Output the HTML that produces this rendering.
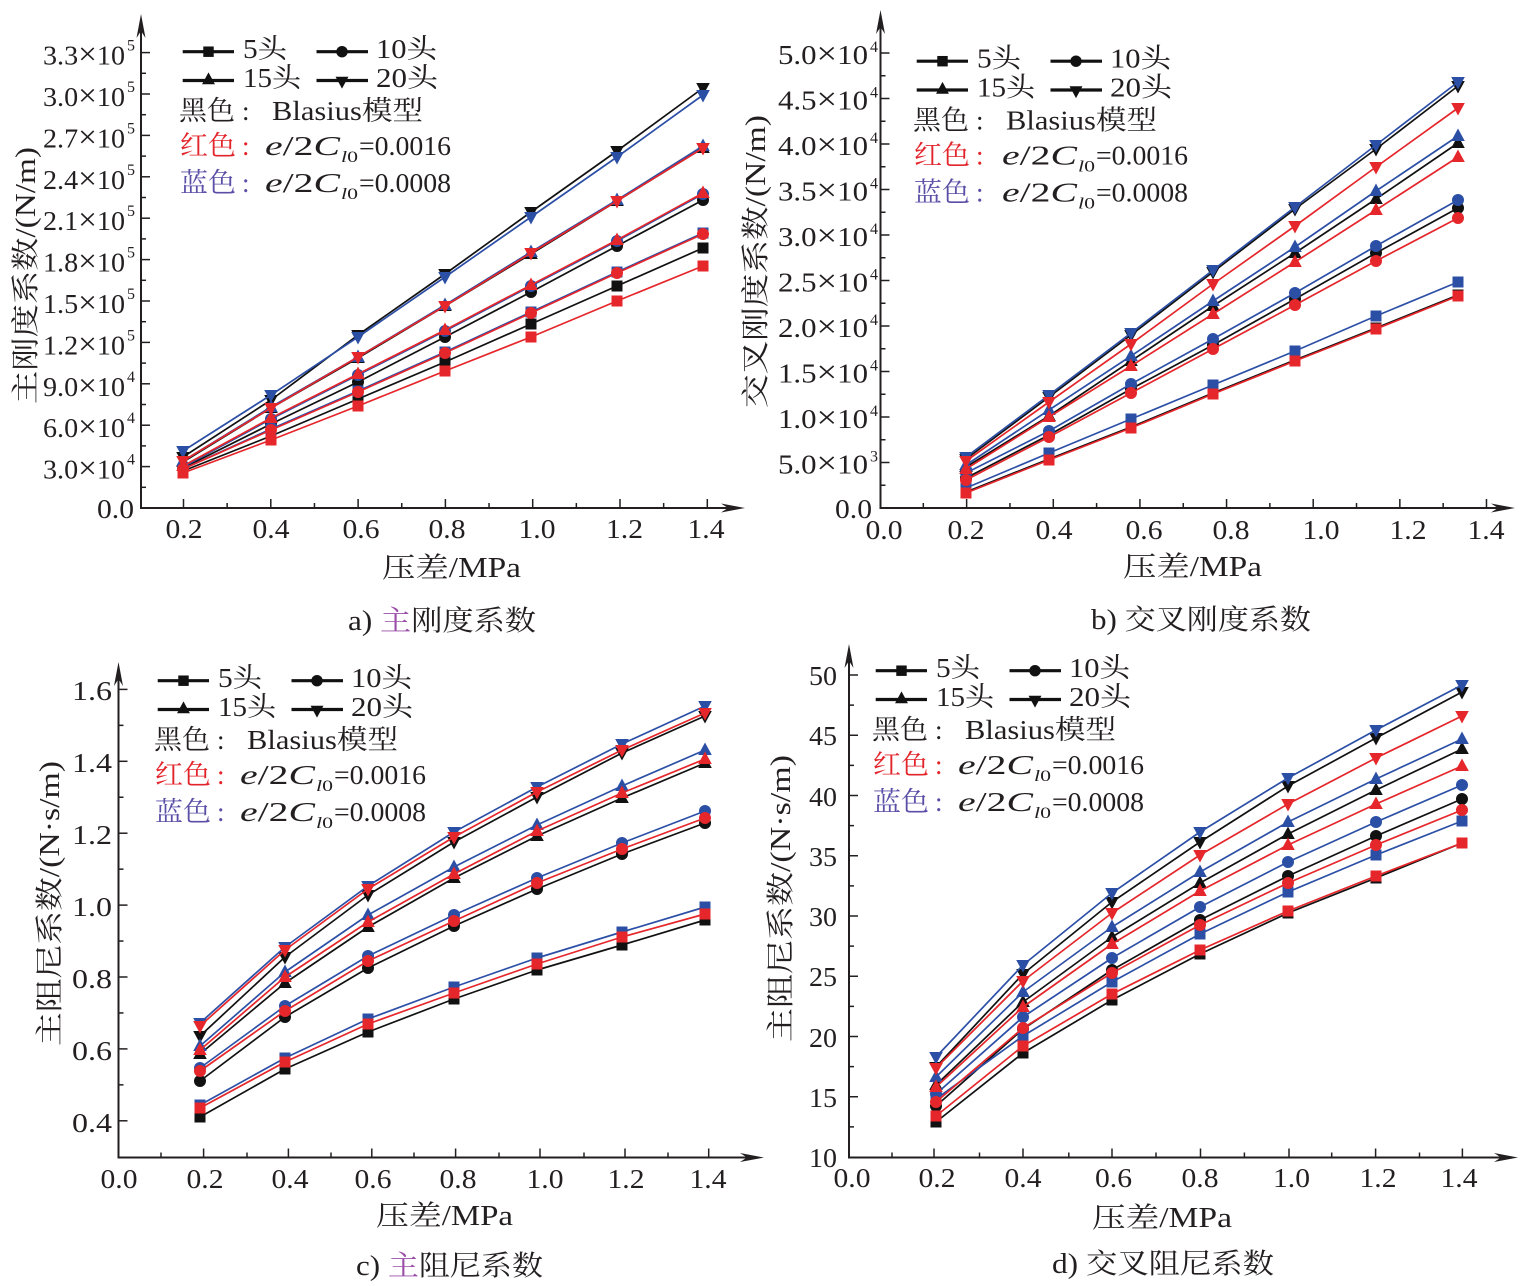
<!DOCTYPE html>
<html><head><meta charset="utf-8">
<style>
html,body{margin:0;padding:0;background:#fff;overflow:hidden;}
svg{display:block;}
text{font-family:"Liberation Serif","Noto Serif CJK SC",serif;fill:#231f20;font-size:27px;}
.t28{font-size:28px;}
.sup{font-size:16px;}
.x{font-size:32px;}
.red{fill:#e2242b;}
.pur{fill:#5a4ea6;}
.mag{fill:#9b4ea8;}
</style></head><body>
<svg id="s" width="1522" height="1286" viewBox="0 0 1522 1286" xmlns="http://www.w3.org/2000/svg">
<rect width="1522" height="1286" fill="#fff"/>
<g id="g"></g>

<!-- ===== Chart a ===== -->
<g>
<text x="97" y="518" textLength="37" lengthAdjust="spacingAndGlyphs">0.0</text>
<text x="43" y="478.6" textLength="82" lengthAdjust="spacingAndGlyphs">3.0<tspan class="x">×</tspan>10</text><text class="sup" x="127" y="464.6">4</text>
<text x="43" y="437.2" textLength="82" lengthAdjust="spacingAndGlyphs">6.0<tspan class="x">×</tspan>10</text><text class="sup" x="127" y="423.2">4</text>
<text x="43" y="395.8" textLength="82" lengthAdjust="spacingAndGlyphs">9.0<tspan class="x">×</tspan>10</text><text class="sup" x="127" y="381.8">4</text>
<text x="43" y="354.4" textLength="82" lengthAdjust="spacingAndGlyphs">1.2<tspan class="x">×</tspan>10</text><text class="sup" x="127" y="340.4">5</text>
<text x="43" y="313" textLength="82" lengthAdjust="spacingAndGlyphs">1.5<tspan class="x">×</tspan>10</text><text class="sup" x="127" y="299">5</text>
<text x="43" y="271.6" textLength="82" lengthAdjust="spacingAndGlyphs">1.8<tspan class="x">×</tspan>10</text><text class="sup" x="127" y="257.6">5</text>
<text x="43" y="230.2" textLength="82" lengthAdjust="spacingAndGlyphs">2.1<tspan class="x">×</tspan>10</text><text class="sup" x="127" y="216.2">5</text>
<text x="43" y="188.8" textLength="82" lengthAdjust="spacingAndGlyphs">2.4<tspan class="x">×</tspan>10</text><text class="sup" x="127" y="174.8">5</text>
<text x="43" y="147.4" textLength="82" lengthAdjust="spacingAndGlyphs">2.7<tspan class="x">×</tspan>10</text><text class="sup" x="127" y="133.4">5</text>
<text x="43" y="106" textLength="82" lengthAdjust="spacingAndGlyphs">3.0<tspan class="x">×</tspan>10</text><text class="sup" x="127" y="92">5</text>
<text x="43" y="64.6" textLength="82" lengthAdjust="spacingAndGlyphs">3.3<tspan class="x">×</tspan>10</text><text class="sup" x="127" y="50.6">5</text>
<text x="165.5" y="538" textLength="37" lengthAdjust="spacingAndGlyphs">0.2</text>
<text x="252.5" y="538" textLength="37" lengthAdjust="spacingAndGlyphs">0.4</text>
<text x="342.5" y="538" textLength="37" lengthAdjust="spacingAndGlyphs">0.6</text>
<text x="428.5" y="538" textLength="37" lengthAdjust="spacingAndGlyphs">0.8</text>
<text x="518.5" y="538" textLength="37" lengthAdjust="spacingAndGlyphs">1.0</text>
<text x="606" y="538" textLength="37" lengthAdjust="spacingAndGlyphs">1.2</text>
<text x="687.5" y="538" textLength="37" lengthAdjust="spacingAndGlyphs">1.4</text>
<text class="t28" x="382" y="577" textLength="139" lengthAdjust="spacingAndGlyphs">压差/MPa</text>
<text class="t28" x="348" y="630" textLength="188" lengthAdjust="spacingAndGlyphs">a) <tspan class="mag">主</tspan>刚度系数</text>
<text class="t28" transform="translate(35,404) rotate(-90)" x="0" y="0" textLength="257" lengthAdjust="spacingAndGlyphs">主刚度系数/(N/m)</text>
</g>

<!-- ===== Chart b ===== -->
<g>
<text x="835" y="518" textLength="37" lengthAdjust="spacingAndGlyphs">0.0</text>
<text x="778" y="473.5" textLength="90" lengthAdjust="spacingAndGlyphs">5.0<tspan class="x">×</tspan>10</text><text class="sup" x="870" y="461.5">3</text>
<text x="778" y="428" textLength="90" lengthAdjust="spacingAndGlyphs">1.0<tspan class="x">×</tspan>10</text><text class="sup" x="870" y="416">4</text>
<text x="778" y="382.5" textLength="90" lengthAdjust="spacingAndGlyphs">1.5<tspan class="x">×</tspan>10</text><text class="sup" x="870" y="370.5">4</text>
<text x="778" y="337" textLength="90" lengthAdjust="spacingAndGlyphs">2.0<tspan class="x">×</tspan>10</text><text class="sup" x="870" y="325">4</text>
<text x="778" y="291.5" textLength="90" lengthAdjust="spacingAndGlyphs">2.5<tspan class="x">×</tspan>10</text><text class="sup" x="870" y="279.5">4</text>
<text x="778" y="246" textLength="90" lengthAdjust="spacingAndGlyphs">3.0<tspan class="x">×</tspan>10</text><text class="sup" x="870" y="234">4</text>
<text x="778" y="200.5" textLength="90" lengthAdjust="spacingAndGlyphs">3.5<tspan class="x">×</tspan>10</text><text class="sup" x="870" y="188.5">4</text>
<text x="778" y="155" textLength="90" lengthAdjust="spacingAndGlyphs">4.0<tspan class="x">×</tspan>10</text><text class="sup" x="870" y="143">4</text>
<text x="778" y="109.5" textLength="90" lengthAdjust="spacingAndGlyphs">4.5<tspan class="x">×</tspan>10</text><text class="sup" x="870" y="97.5">4</text>
<text x="778" y="64" textLength="90" lengthAdjust="spacingAndGlyphs">5.0<tspan class="x">×</tspan>10</text><text class="sup" x="870" y="52">4</text>
<text x="865.5" y="539" textLength="37" lengthAdjust="spacingAndGlyphs">0.0</text>
<text x="947.5" y="539" textLength="37" lengthAdjust="spacingAndGlyphs">0.2</text>
<text x="1035.5" y="539" textLength="37" lengthAdjust="spacingAndGlyphs">0.4</text>
<text x="1125.5" y="539" textLength="37" lengthAdjust="spacingAndGlyphs">0.6</text>
<text x="1212.5" y="539" textLength="37" lengthAdjust="spacingAndGlyphs">0.8</text>
<text x="1302.5" y="539" textLength="37" lengthAdjust="spacingAndGlyphs">1.0</text>
<text x="1389.5" y="539" textLength="37" lengthAdjust="spacingAndGlyphs">1.2</text>
<text x="1467.5" y="539" textLength="37" lengthAdjust="spacingAndGlyphs">1.4</text>
<text class="t28" x="1123" y="576" textLength="139" lengthAdjust="spacingAndGlyphs">压差/MPa</text>
<text class="t28" x="1091" y="629" textLength="220" lengthAdjust="spacingAndGlyphs">b) 交叉刚度系数</text>
<text class="t28" transform="translate(765,408) rotate(-90)" x="0" y="0" textLength="293" lengthAdjust="spacingAndGlyphs">交叉刚度系数/(N/m)</text>
</g>

<!-- ===== Chart c ===== -->
<g>
<text x="72" y="1132" textLength="40" lengthAdjust="spacingAndGlyphs">0.4</text>
<text x="72" y="1060" textLength="40" lengthAdjust="spacingAndGlyphs">0.6</text>
<text x="72" y="988" textLength="40" lengthAdjust="spacingAndGlyphs">0.8</text>
<text x="72" y="916" textLength="40" lengthAdjust="spacingAndGlyphs">1.0</text>
<text x="72" y="844" textLength="40" lengthAdjust="spacingAndGlyphs">1.2</text>
<text x="72" y="772" textLength="40" lengthAdjust="spacingAndGlyphs">1.4</text>
<text x="72" y="700" textLength="40" lengthAdjust="spacingAndGlyphs">1.6</text>
<text x="100.5" y="1188" textLength="37" lengthAdjust="spacingAndGlyphs">0.0</text>
<text x="186.5" y="1188" textLength="37" lengthAdjust="spacingAndGlyphs">0.2</text>
<text x="271.5" y="1188" textLength="37" lengthAdjust="spacingAndGlyphs">0.4</text>
<text x="354.5" y="1188" textLength="37" lengthAdjust="spacingAndGlyphs">0.6</text>
<text x="439.5" y="1188" textLength="37" lengthAdjust="spacingAndGlyphs">0.8</text>
<text x="526.5" y="1188" textLength="37" lengthAdjust="spacingAndGlyphs">1.0</text>
<text x="607.5" y="1188" textLength="37" lengthAdjust="spacingAndGlyphs">1.2</text>
<text x="689.5" y="1188" textLength="37" lengthAdjust="spacingAndGlyphs">1.4</text>
<text class="t28" x="376" y="1225" textLength="137" lengthAdjust="spacingAndGlyphs">压差/MPa</text>
<text class="t28" x="356" y="1275" textLength="187" lengthAdjust="spacingAndGlyphs">c) <tspan class="mag">主</tspan>阻尼系数</text>
<text class="t28" transform="translate(59,1046) rotate(-90)" x="0" y="0" textLength="285" lengthAdjust="spacingAndGlyphs">主阻尼系数/(N·s/m)</text>
</g>

<!-- ===== Chart d ===== -->
<g>
<text x="809" y="1167" textLength="28" lengthAdjust="spacingAndGlyphs">10</text>
<text x="809" y="1107" textLength="28" lengthAdjust="spacingAndGlyphs">15</text>
<text x="809" y="1047" textLength="28" lengthAdjust="spacingAndGlyphs">20</text>
<text x="809" y="986" textLength="28" lengthAdjust="spacingAndGlyphs">25</text>
<text x="809" y="926" textLength="28" lengthAdjust="spacingAndGlyphs">30</text>
<text x="809" y="866" textLength="28" lengthAdjust="spacingAndGlyphs">35</text>
<text x="809" y="806" textLength="28" lengthAdjust="spacingAndGlyphs">40</text>
<text x="809" y="745" textLength="28" lengthAdjust="spacingAndGlyphs">45</text>
<text x="809" y="685" textLength="28" lengthAdjust="spacingAndGlyphs">50</text>
<text x="833.5" y="1187" textLength="37" lengthAdjust="spacingAndGlyphs">0.0</text>
<text x="918.5" y="1187" textLength="37" lengthAdjust="spacingAndGlyphs">0.2</text>
<text x="1004.5" y="1187" textLength="37" lengthAdjust="spacingAndGlyphs">0.4</text>
<text x="1095" y="1187" textLength="37" lengthAdjust="spacingAndGlyphs">0.6</text>
<text x="1181.5" y="1187" textLength="37" lengthAdjust="spacingAndGlyphs">0.8</text>
<text x="1273" y="1187" textLength="37" lengthAdjust="spacingAndGlyphs">1.0</text>
<text x="1359.5" y="1187" textLength="37" lengthAdjust="spacingAndGlyphs">1.2</text>
<text x="1440.5" y="1187" textLength="37" lengthAdjust="spacingAndGlyphs">1.4</text>
<text class="t28" x="1092" y="1227" textLength="140" lengthAdjust="spacingAndGlyphs">压差/MPa</text>
<text class="t28" x="1052" y="1273" textLength="222" lengthAdjust="spacingAndGlyphs">d) 交叉阻尼系数</text>
<text class="t28" transform="translate(790,1042) rotate(-90)" x="0" y="0" textLength="287" lengthAdjust="spacingAndGlyphs">主阻尼系数/(N·s/m)</text>
</g>

<!-- ===== Legends ===== -->
<g transform="translate(0,0)">
<text x="243" y="58" textLength="44" lengthAdjust="spacingAndGlyphs">5头</text>
<text x="376" y="58" textLength="61" lengthAdjust="spacingAndGlyphs">10头</text>
<text x="243" y="87" textLength="58" lengthAdjust="spacingAndGlyphs">15头</text>
<text x="376" y="87" textLength="62" lengthAdjust="spacingAndGlyphs">20头</text>
<text x="179" y="120" textLength="56" lengthAdjust="spacingAndGlyphs">黑色</text><text x="242" y="120">:</text>
<text x="272" y="120" textLength="151" lengthAdjust="spacingAndGlyphs">Blasius模型</text>
<text class="red" x="180" y="155" textLength="56" lengthAdjust="spacingAndGlyphs">红色</text><text class="red" x="242" y="155">:</text>
<text x="265" y="155" textLength="75" lengthAdjust="spacingAndGlyphs"><tspan font-style="italic">e</tspan>/2<tspan font-style="italic">C</tspan></text>
<text class="sup" x="341" y="162" font-size="18" textLength="17" lengthAdjust="spacingAndGlyphs"><tspan font-style="italic">l</tspan>0</text>
<text x="359" y="155" textLength="92" lengthAdjust="spacingAndGlyphs">=0.0016</text>
<text class="pur" x="180" y="192" textLength="56" lengthAdjust="spacingAndGlyphs">蓝色</text><text class="pur" x="242" y="192">:</text>
<text x="265" y="192" textLength="75" lengthAdjust="spacingAndGlyphs"><tspan font-style="italic">e</tspan>/2<tspan font-style="italic">C</tspan></text>
<text class="sup" x="341" y="199" font-size="18" textLength="17" lengthAdjust="spacingAndGlyphs"><tspan font-style="italic">l</tspan>0</text>
<text x="359" y="192" textLength="92" lengthAdjust="spacingAndGlyphs">=0.0008</text>
</g>
<g transform="translate(734,9.5)">
<text x="243" y="58" textLength="44" lengthAdjust="spacingAndGlyphs">5头</text>
<text x="376" y="58" textLength="61" lengthAdjust="spacingAndGlyphs">10头</text>
<text x="243" y="87" textLength="58" lengthAdjust="spacingAndGlyphs">15头</text>
<text x="376" y="87" textLength="62" lengthAdjust="spacingAndGlyphs">20头</text>
<text x="179" y="120" textLength="56" lengthAdjust="spacingAndGlyphs">黑色</text><text x="242" y="120">:</text>
<text x="272" y="120" textLength="151" lengthAdjust="spacingAndGlyphs">Blasius模型</text>
<text class="red" x="180" y="155" textLength="56" lengthAdjust="spacingAndGlyphs">红色</text><text class="red" x="242" y="155">:</text>
<text x="268" y="155" textLength="75" lengthAdjust="spacingAndGlyphs"><tspan font-style="italic">e</tspan>/2<tspan font-style="italic">C</tspan></text>
<text class="sup" x="344" y="162" font-size="18" textLength="17" lengthAdjust="spacingAndGlyphs"><tspan font-style="italic">l</tspan>0</text>
<text x="362" y="155" textLength="92" lengthAdjust="spacingAndGlyphs">=0.0016</text>
<text class="pur" x="180" y="192" textLength="56" lengthAdjust="spacingAndGlyphs">蓝色</text><text class="pur" x="242" y="192">:</text>
<text x="268" y="192" textLength="75" lengthAdjust="spacingAndGlyphs"><tspan font-style="italic">e</tspan>/2<tspan font-style="italic">C</tspan></text>
<text class="sup" x="344" y="199" font-size="18" textLength="17" lengthAdjust="spacingAndGlyphs"><tspan font-style="italic">l</tspan>0</text>
<text x="362" y="192" textLength="92" lengthAdjust="spacingAndGlyphs">=0.0008</text>
</g>
<g transform="translate(-25,629)">
<text x="243" y="58" textLength="44" lengthAdjust="spacingAndGlyphs">5头</text>
<text x="376" y="58" textLength="61" lengthAdjust="spacingAndGlyphs">10头</text>
<text x="243" y="87" textLength="58" lengthAdjust="spacingAndGlyphs">15头</text>
<text x="376" y="87" textLength="62" lengthAdjust="spacingAndGlyphs">20头</text>
<text x="179" y="120" textLength="56" lengthAdjust="spacingAndGlyphs">黑色</text><text x="242" y="120">:</text>
<text x="272" y="120" textLength="151" lengthAdjust="spacingAndGlyphs">Blasius模型</text>
<text class="red" x="180" y="155" textLength="56" lengthAdjust="spacingAndGlyphs">红色</text><text class="red" x="242" y="155">:</text>
<text x="265" y="155" textLength="75" lengthAdjust="spacingAndGlyphs"><tspan font-style="italic">e</tspan>/2<tspan font-style="italic">C</tspan></text>
<text class="sup" x="341" y="162" font-size="18" textLength="17" lengthAdjust="spacingAndGlyphs"><tspan font-style="italic">l</tspan>0</text>
<text x="359" y="155" textLength="92" lengthAdjust="spacingAndGlyphs">=0.0016</text>
<text class="pur" x="180" y="192" textLength="56" lengthAdjust="spacingAndGlyphs">蓝色</text><text class="pur" x="242" y="192">:</text>
<text x="265" y="192" textLength="75" lengthAdjust="spacingAndGlyphs"><tspan font-style="italic">e</tspan>/2<tspan font-style="italic">C</tspan></text>
<text class="sup" x="341" y="199" font-size="18" textLength="17" lengthAdjust="spacingAndGlyphs"><tspan font-style="italic">l</tspan>0</text>
<text x="359" y="192" textLength="92" lengthAdjust="spacingAndGlyphs">=0.0008</text>
</g>
<g transform="translate(693,619)">
<text x="243" y="58" textLength="44" lengthAdjust="spacingAndGlyphs">5头</text>
<text x="376" y="58" textLength="61" lengthAdjust="spacingAndGlyphs">10头</text>
<text x="243" y="87" textLength="58" lengthAdjust="spacingAndGlyphs">15头</text>
<text x="376" y="87" textLength="62" lengthAdjust="spacingAndGlyphs">20头</text>
<text x="179" y="120" textLength="56" lengthAdjust="spacingAndGlyphs">黑色</text><text x="242" y="120">:</text>
<text x="272" y="120" textLength="151" lengthAdjust="spacingAndGlyphs">Blasius模型</text>
<text class="red" x="180" y="155" textLength="56" lengthAdjust="spacingAndGlyphs">红色</text><text class="red" x="242" y="155">:</text>
<text x="265" y="155" textLength="75" lengthAdjust="spacingAndGlyphs"><tspan font-style="italic">e</tspan>/2<tspan font-style="italic">C</tspan></text>
<text class="sup" x="341" y="162" font-size="18" textLength="17" lengthAdjust="spacingAndGlyphs"><tspan font-style="italic">l</tspan>0</text>
<text x="359" y="155" textLength="92" lengthAdjust="spacingAndGlyphs">=0.0016</text>
<text class="pur" x="180" y="192" textLength="56" lengthAdjust="spacingAndGlyphs">蓝色</text><text class="pur" x="242" y="192">:</text>
<text x="265" y="192" textLength="75" lengthAdjust="spacingAndGlyphs"><tspan font-style="italic">e</tspan>/2<tspan font-style="italic">C</tspan></text>
<text class="sup" x="341" y="199" font-size="18" textLength="17" lengthAdjust="spacingAndGlyphs"><tspan font-style="italic">l</tspan>0</text>
<text x="359" y="192" textLength="92" lengthAdjust="spacingAndGlyphs">=0.0008</text>
</g>
</svg>
<script>
(function(){
var NS="http://www.w3.org/2000/svg";
var g=document.getElementById('g');
function el(t,a){var e=document.createElementNS(NS,t);for(var k in a)e.setAttribute(k,a[k]);g.appendChild(e);return e;}
function line(x1,y1,x2,y2,w,c){el('line',{x1:x1,y1:y1,x2:x2,y2:y2,stroke:c||'#231f20','stroke-width':w||2});}
function marker(t,x,y,c,s){s=s||1;
 if(t=='s')el('rect',{x:x-5.5*s,y:y-5.5*s,width:11*s,height:11*s,fill:c});
 else if(t=='c')el('circle',{cx:x,cy:y,r:6*s,fill:c});
 else if(t=='u')el('polygon',{points:x+','+(y-7.5*s)+' '+(x-6.8*s)+','+(y+5*s)+' '+(x+6.8*s)+','+(y+5*s),fill:c});
 else el('polygon',{points:x+','+(y+7.5*s)+' '+(x-6.8*s)+','+(y-5*s)+' '+(x+6.8*s)+','+(y-5*s),fill:c});
}
function axes(ox,oy,xt,yt,xMaj,xMin,yMaj,yMin){
 line(ox,oy,xt-16,oy,2);
 el('polygon',{points:xt+','+oy+' '+(xt-24)+','+(oy-4.5)+' '+(xt-17)+','+oy+' '+(xt-24)+','+(oy+4.5),fill:'#231f20'});
 line(ox,oy+1,ox,yt+16,2);
 el('polygon',{points:ox+','+yt+' '+(ox-4.5)+','+(yt+24)+' '+ox+','+(yt+17)+' '+(ox+4.5)+','+(yt+24),fill:'#231f20'});
 xMaj.forEach(function(x){line(x,oy,x,oy-9,1.5);});
 xMin.forEach(function(x){line(x,oy,x,oy-5,1.5);});
 yMaj.forEach(function(y){line(ox,y,ox+9,y,1.5);});
 yMin.forEach(function(y){line(ox,y,ox+5,y,1.5);});
}
function rng(a,b,step){var r=[];for(var v=a;v<=b+1e-6;v+=step)r.push(v);return r;}
(function(){
 var maj=[183.5,270.8,358.1,445.4,532.7,620,707.3];
 var min=maj.slice(0,6).map(function(x){return x+43.65;});
 var ym=rng(1,11,1).map(function(k){return 508-41.4*k;});
 var yn=rng(0.5,10.5,1).map(function(k){return 508-41.4*k;});
 axes(141,508,745,14,maj,min,ym,yn);
})();
(function(){
 var maj=rng(0.2,1.4,0.2).map(function(v){return 880+433.2*v;});
 var min=rng(0.1,1.3,0.2).map(function(v){return 880+433.2*v;});
 var ym=rng(1,10,1).map(function(k){return 508-45.5*k;});
 var yn=rng(0.5,9.5,1).map(function(k){return 508-45.5*k;});
 axes(880.5,508,1515,10,maj,min,ym,yn);
})();
(function(){
 var maj=[203.6,288.4,371.8,455.6,540,625,708.7];
 var min=[161,247,331,414,499,584,668];
 var ym=rng(0,6,1).map(function(k){return 1120.8-71.9*k;});
 var yn=rng(0.5,5.5,1).map(function(k){return 1120.8-71.9*k;});
 axes(118.5,1157.5,764,662,maj,min,ym,yn);
})();
(function(){
 var maj=[934,1023,1112,1200.5,1289,1375.6,1462.4];
 var min=[892,979.5,1068.8,1156,1244.4,1331.7,1419.5];
 var ym=rng(1,8,1).map(function(k){return 1157-60.25*k;});
 var yn=rng(0.5,7.5,1).map(function(k){return 1157-60.25*k;});
 axes(849,1157.5,1518,644,maj,min,ym,yn);
})();
var K='#111111',R='#e5262b',B='#2c4fa6';
var charts=[
{xs:[183,271,358,445,531,617,703],s:[
[K,'d',[457,400,335,274,212,151,88]],
[K,'u',[462,408,358,306,254,201,148]],
[K,'c',[468,424,382,337,292,246,200]],
[K,'s',[471,436,399,362,324,286,248]],
[B,'d',[451,395,337,277,217,157,95]],
[B,'u',[461,407,357,305,252,200,146]],
[B,'c',[467,419,375,331,286,241,194]],
[B,'s',[469,429,391,352,312,272,233]],
[R,'d',[461,408,357,306,253,201,148]],
[R,'u',[466,418,374,330,285,240,193]],
[R,'c',[469,430,392,353,313,273,234]],
[R,'s',[473,440,406,371,337,301,266]]]},
{xs:[966,1049,1131,1213,1295,1376,1458],s:[
[K,'d',[459,397,335,272,209,149,86]],
[K,'u',[467,416,361,306,253,199,143]],
[K,'c',[478,435,389,345,299,253,208]],
[K,'s',[492,459,427,393,360,328,295]],
[B,'d',[457,395,333,270,207,145,82]],
[B,'u',[465,410,356,301,247,191,136]],
[B,'c',[473,431,384,339,293,246,200]],
[B,'s',[488,453,419,385,351,316,282]],
[R,'d',[461,402,344,284,226,167,108]],
[R,'u',[469,417,366,314,262,210,157]],
[R,'c',[480,437,393,349,305,261,218]],
[R,'s',[493,460,428,394,361,329,296]]]},
{xs:[200,285,368,454,537,622,705],s:[
[K,'d',[1036,957,895,842,797,753,716]],
[K,'u',[1054,983,927,878,836,798,763]],
[K,'c',[1081,1017,968,926,889,854,823]],
[K,'s',[1117,1069,1032,999,970,945,920]],
[B,'d',[1023,947,886,832,787,744,706]],
[B,'u',[1046,972,915,867,825,786,750]],
[B,'c',[1068,1006,956,915,878,843,811]],
[B,'s',[1105,1058,1019,987,958,932,907]],
[R,'d',[1026,950,889,837,792,750,713]],
[R,'u',[1050,977,922,874,831,793,759]],
[R,'c',[1071,1011,961,921,883,849,818]],
[R,'s',[1108,1062,1024,993,964,937,914]]]},
{xs:[936,1023,1112,1200,1288,1376,1462],s:[
[K,'d',[1067,974,902,842,786,738,692]],
[K,'u',[1085,1002,937,883,834,790,749]],
[K,'c',[1106,1029,970,920,876,836,799]],
[K,'s',[1122,1053,1000,954,913,878,843]],
[B,'d',[1057,965,893,832,778,730,685]],
[B,'u',[1077,992,927,872,822,779,739]],
[B,'c',[1094,1017,958,907,862,822,785]],
[B,'s',[1099,1036,982,934,892,855,821]],
[R,'d',[1068,981,913,855,804,758,716]],
[R,'u',[1087,1007,944,891,845,804,766]],
[R,'c',[1102,1028,973,925,883,845,810]],
[R,'s',[1116,1046,994,950,911,876,843]]]}
];
charts.forEach(function(ch){
 ch.s.forEach(function(s){
  el('polyline',{points:ch.xs.map(function(x,i){return x+','+s[2][i];}).join(' '),fill:'none',stroke:s[0],'stroke-width':1.7,'stroke-linejoin':'round'});
  ch.xs.forEach(function(x,i){marker(s[1],x,s[2][i],s[0]);});
 });
});
[[0,0],[734,9.5],[-25,629],[693,619]].forEach(function(o){
 var dx=o[0],dy=o[1];
 var y1=51.7+dy,y2=80.5+dy;
 line(182.7+dx,y1,234+dx,y1,3.2,'#111');marker('s',208.5+dx,y1,'#111',0.95);
 line(316.5+dx,y1,368+dx,y1,3.2,'#111');marker('c',342+dx,y1,'#111',0.95);
 line(182.7+dx,y2,234+dx,y2,3.2,'#111');marker('u',208.5+dx,y2-1,'#111',0.95);
 line(316.5+dx,y2,368+dx,y2,3.2,'#111');marker('d',342+dx,y2+1,'#111',0.95);
});
})();
</script>
</body></html>
